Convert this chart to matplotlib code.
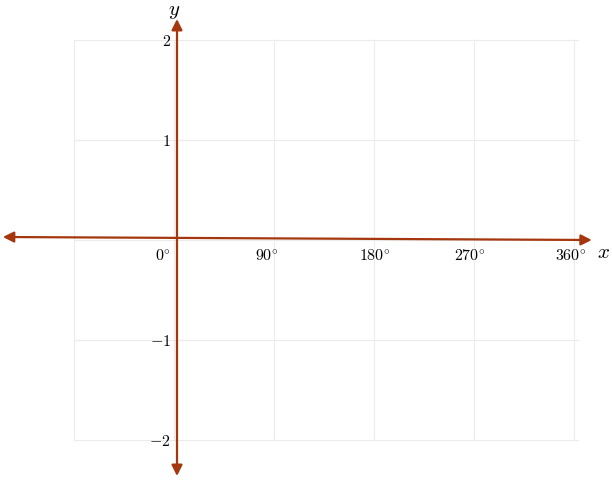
import matplotlib
matplotlib.use("Agg")
import matplotlib.pyplot as plt

plt.rcParams['mathtext.fontset'] = 'cm'

x_ticks = [0, 90, 180, 270, 360]
x_tick_labels = [r'$0^{\circ}$', r'$90^{\circ}$', r'$180^{\circ}$', r'$270^{\circ}$', r'$360^{\circ}$']
y_ticks = [-2, -1, 1, 2]
y_tick_labels = [r'$-2$', r'$-1$', r'$1$', r'$2$']
grid_x = [-90, 0, 90, 180, 270, 360]
grid_y = [-2, -1, 0, 1, 2]
x_axis_ends = [-154, 376]
y_axis_ends = [-2.36, 2.21]

# style: horizontal label nudges (in x data units)
x_label_nudge = [-3, -6, 1, -4, -3]
y_axis_pos = 2.7

axis_color = '#A5370E'
grid_color = '#ececec'

fig = plt.figure(figsize=(6.12, 4.81), dpi=100)
ax = fig.add_axes([0, 0, 1, 1])
ax.set_xlim(-156.6, 394.2)
ax.set_ylim(-2.40, 2.41)
ax.axis('off')

for gx in grid_x:
    ax.plot([gx, gx], [grid_y[0], grid_y[-1]], color=grid_color, lw=0.8, zorder=1)
for gy in grid_y:
    ax.plot([grid_x[0], grid_x[-1] + 4], [gy, gy], color=grid_color, lw=0.8, zorder=1)

# axes arrows
ax.annotate('', xy=(x_axis_ends[0], 0.03), xytext=(x_axis_ends[1], 0.0),
            arrowprops=dict(arrowstyle='<|-|>', mutation_scale=16, lw=1.6,
                            color=axis_color, shrinkA=0, shrinkB=0), zorder=3)
ax.annotate('', xy=(y_axis_pos, y_axis_ends[0]), xytext=(y_axis_pos, y_axis_ends[1]),
            arrowprops=dict(arrowstyle='<|-|>', mutation_scale=16, lw=1.6,
                            color=axis_color, shrinkA=0, shrinkB=0), zorder=3)

for xv, lab, nd in zip(x_ticks, x_tick_labels, x_label_nudge):
    if xv == 0:
        ax.text(xv + nd, -0.07, lab, ha='right', va='top', fontsize=11.5)
    else:
        ax.text(xv + nd, -0.07, lab, ha='center', va='top', fontsize=11.5)

for yv, lab in zip(y_ticks, y_tick_labels):
    ax.text(-3, yv, lab, ha='right', va='center', fontsize=11.5)

ax.text(x_axis_ends[1] + 5, -0.11, r'$x$', ha='left', va='center', fontsize=15)
ax.text(y_axis_pos - 3, 2.30, r'$y$', ha='center', va='center', fontsize=15)

fig.savefig('out.png', dpi=100)
